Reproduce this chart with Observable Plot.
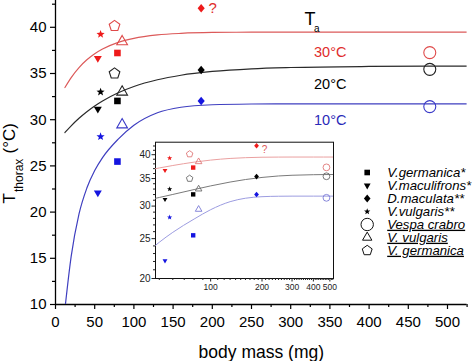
<!DOCTYPE html>
<html><head><meta charset="utf-8">
<script src="https://cdn.jsdelivr.net/npm/d3@7"></script>
<script src="https://cdn.jsdelivr.net/npm/@observablehq/plot@0.6"></script>
<style>
html,body{margin:0;padding:0;background:#fff;}
#wrap{position:relative;width:474px;height:361px;overflow:hidden;background:#fff;}
#wrap svg{position:absolute;}
</style></head><body><div id="wrap"></div>
<script>
const FONT = '"Liberation Sans", Arial, Helvetica, sans-serif';

// ---- data ----
const species = ["V.germanica*", "V.maculifrons*", "D.maculata**", "V.vulgaris**", "Vespa crabro", "V. vulgaris", "V. germanica"];
const massMg = [79, 54, 185.8, 57.5, 477.4, 85, 75.3];
const tAt30 = [37.22, 36.65, 42.06, 39.24, 37.26, 38.45, 40.14];
const tAt20 = [32.03, 31.16, 35.38, 33.0, 35.45, 33.0, 35.0];
const tAt10 = [25.47, 22.1, 32.02, 28.17, 31.42, 29.45, null];
const fitMass = [12, 20, 30, 40, 50, 60, 80, 100, 130, 160, 200, 250, 300, 400, 525];
const fit30 = [33.48, 34.56, 35.64, 36.48, 37.14, 37.65, 38.37, 38.81, 39.17, 39.34, 39.44, 39.47, 39.48, 39.48, 39.48];
const fit20 = [28.61, 29.34, 30.15, 30.86, 31.48, 32.02, 32.91, 33.59, 34.32, 34.81, 35.22, 35.51, 35.65, 35.76, 35.8];
const fit10 = [9.5, 15.2, 19.8, 22.6, 24.5, 25.9, 27.9, 29.4, 30.75, 31.35, 31.62, 31.7, 31.72, 31.72, 31.72];
const ambientLabels = ["30°C", "20°C", "10°C"];
const underlined = ["Vespa crabro", "V. vulgaris", "V. germanica"];
const xTicks = [0, 50, 100, 150, 200, 250, 300, 350, 400, 450, 500];
const xMinor = [25, 75, 125, 175, 225, 275, 325, 375, 425, 475, 525];
const yTicks = [10, 15, 20, 25, 30, 35, 40];
const yMinor = [12.5, 17.5, 22.5, 27.5, 32.5, 37.5, 42.5];
const insetXTicks = [100, 200, 300, 400, 500];
const insetYTicks = [20, 25, 30, 35, 40];
const insetXMinor = d3.range(50, 521, 10).filter(v => v % 100 !== 0);
const insetYMinor = d3.range(21, 43, 1).filter(v => v % 5 !== 0);

// ---- custom symbols ----
const rad = s => Math.sqrt(s / Math.PI);
const poly = (c, pts) => { c.moveTo(pts[0][0], pts[0][1]); for (let k = 1; k < pts.length; k++) c.lineTo(pts[k][0], pts[k][1]); c.closePath(); };
const SYM = {
  square: {draw(c, s) { const r = rad(s); poly(c, [[-r, -r], [r, -r], [r, r], [-r, r]]); }},
  invTri: {draw(c, s) { const r = rad(s); poly(c, [[0, r], [-0.866 * r, -0.5 * r], [0.866 * r, -0.5 * r]]); }},
  triangle: {draw(c, s) { const r = rad(s); poly(c, [[0, -r], [0.866 * r, 0.5 * r], [-0.866 * r, 0.5 * r]]); }},
  diamond: {draw(c, s) { const r = rad(s); poly(c, [[0, -r], [0.85 * r, 0], [0, r], [-0.85 * r, 0]]); }},
  star: {draw(c, s) { const r = rad(s); const p = []; for (let k = 0; k < 10; k++) { const a = -Math.PI / 2 + k * Math.PI / 5; const rr = k % 2 ? r * 0.42 : r; p.push([rr * Math.cos(a), rr * Math.sin(a)]); } poly(c, p); }},
  circle: {draw(c, s) { const r = rad(s); c.moveTo(r, 0); c.arc(0, 0, r, 0, 2 * Math.PI); c.closePath(); }},
  pentagon: {draw(c, s) { const r = rad(s); const p = []; for (let k = 0; k < 5; k++) { const a = -Math.PI / 2 + k * 2 * Math.PI / 5; p.push([r * Math.cos(a), r * Math.sin(a)]); } poly(c, p); }}
};
const markerStyle = [
  {sym: SYM.square, open: false, r: 3.3, legR: 2.8, insR: 2.2},
  {sym: SYM.invTri, open: false, r: 4.6, legR: 3.9, insR: 2.8},
  {sym: SYM.diamond, open: false, r: 4.2, legR: 3.9, insR: 2.8},
  {sym: SYM.star, open: false, r: 4.3, legR: 3.3, insR: 2.7},
  {sym: SYM.circle, open: true, r: 6, legR: 6.2, insR: 3.4},
  {sym: SYM.triangle, open: true, r: 6.2, legR: 5.4, insR: 3.8},
  {sym: SYM.pentagon, open: true, r: 5.6, legR: 5.2, insR: 3.4}
];
const seriesStyle = [
  {key: "t30", fill: "#ee1a1a", open: "#df4a4a", line: "#dc5a5a", insOpen: "#e07878", insLine: "#eaa0a0", text: "#e02c2c"},
  {key: "t20", fill: "#000000", open: "#222222", line: "#2a2a2a", insOpen: "#6a6a6a", insLine: "#7a7a7a", text: "#000000"},
  {key: "t10", fill: "#1515e0", open: "#3a3ac8", line: "#3f3fc0", insOpen: "#7a7ad6", insLine: "#9c9ce0", text: "#2a2ab8"}
];

const rows = species.map((s, i) => ({species: s, i, mass: massMg[i], t30: tAt30[i], t20: tAt20[i], t10: tAt10[i]}));
const fitRows = fitMass.map((m, i) => ({mass: m, t30: fit30[i], t20: fit20[i], t10: fit10[i]}));

function dotMarks(inset) {
  const out = [];
  for (const ss of seriesStyle) {
    rows.forEach((row, i) => {
      if (row[ss.key] == null) return;
      const st = markerStyle[i];
      out.push(Plot.dot([row], {
        x: "mass", y: ss.key, symbol: st.sym, r: inset ? st.insR : st.r,
        fill: st.open ? "none" : ss.fill,
        stroke: st.open ? (inset ? ss.insOpen : ss.open) : "none",
        strokeWidth: inset ? 0.9 : 1.1
      }));
    });
  }
  return out;
}
function lineMarks(inset) {
  return seriesStyle.map(ss => Plot.line(fitRows, {
    x: "mass", y: ss.key, stroke: inset ? ss.insLine : ss.line,
    strokeWidth: inset ? 1 : 1.2, curve: "monotone-x", clip: true
  }));
}

const wrap = document.getElementById("wrap");

// ---- main chart ----
const main = Plot.plot({
  width: 474, height: 361,
  marginLeft: 55, marginRight: 7.4, marginTop: 0, marginBottom: 57,
  x: {domain: [0, 525]},
  y: {domain: [10, 42.9]},
  style: {fontFamily: FONT, background: "transparent", color: "#000", overflow: "visible"},
  marks: [
    Plot.axisX({ticks: xTicks, tickSize: 5, tickPadding: 7, fontSize: 15, label: null, strokeWidth: 1.2, tickFormat: d => String(d)}),
    Plot.axisX({ticks: xMinor, tickSize: 3, fill: "none", label: null, strokeWidth: 1.2}),
    Plot.axisY({ticks: yTicks, tickSize: 5, tickPadding: 4, fontSize: 15, label: null, strokeWidth: 1.2, tickFormat: d => String(d)}),
    Plot.axisY({ticks: yMinor, tickSize: 3, fill: "none", label: null, strokeWidth: 1.2}),
    Plot.ruleX([0], {strokeWidth: 1.3}),
    Plot.ruleY([10], {strokeWidth: 1.3}),
    ...lineMarks(false),
    ...dotMarks(false),
    Plot.text(rows.filter(d => d.i === 2), {x: "mass", y: "t30", text: () => "?", dx: 11.5, fill: "#e02c2c", fontSize: 15}),
    Plot.text(["T"], {text: d => d, frameAnchor: "top-left", dx: 249, dy: 11.7, fontSize: 18, fill: "#000"}),
    Plot.text(["a"], {text: d => d, frameAnchor: "top-left", dx: 258.5, dy: 24, fontSize: 10, fill: "#000"}),
    ...ambientLabels.map((lab, k) => Plot.text([lab], {text: d => d, frameAnchor: "top-left", dx: 258.5, dy: [45.8, 78.3, 113.8][k], fontSize: 14.5, fill: seriesStyle[k].text})),
    Plot.text(["body mass (mg)"], {text: d => d, frameAnchor: "bottom", lineAnchor: "bottom", dy: 53, fontSize: 17.5, fill: "#000"}),
    Plot.text(["T"], {text: d => d, frameAnchor: "left", rotate: -90, textAnchor: "start", lineAnchor: "bottom", dx: -40.5, dy: 51, fontSize: 17, fill: "#000"}),
    Plot.text(["thorax"], {text: d => d, frameAnchor: "left", rotate: -90, textAnchor: "start", lineAnchor: "bottom", dx: -32.5, dy: 39.5, fontSize: 12, fill: "#000"}),
    Plot.text(["(°C)"], {text: d => d, frameAnchor: "left", rotate: -90, textAnchor: "start", lineAnchor: "bottom", dx: -40.5, dy: 1, fontSize: 17, fill: "#000"})
  ]
});
main.style.left = "0px"; main.style.top = "0px";
wrap.appendChild(main);

// ---- inset (log-log) ----
const inset = Plot.plot({
  width: 220, height: 170,
  marginLeft: 35, marginTop: 11.7, marginRight: 7, marginBottom: 22,
  x: {type: "log", domain: [47.5, 525]},
  y: {type: "log", domain: [20, 42.9]},
  style: {fontFamily: FONT, background: "transparent", color: "#222", overflow: "visible"},
  marks: [
    Plot.frame({stroke: "#111", strokeWidth: 1}),
    Plot.axisX({ticks: insetXTicks, tickSize: 3.5, tickPadding: 2, fontSize: 8.5, label: null, tickFormat: d => String(d)}),
    Plot.axisX({ticks: insetXMinor, tickSize: 2, fill: "none", label: null}),
    Plot.axisY({ticks: insetYTicks, tickSize: 3.5, tickPadding: 1.5, fontSize: 10, label: null, tickFormat: d => String(d)}),
    Plot.axisY({ticks: insetYMinor, tickSize: 2, fill: "none", label: null}),
    ...lineMarks(true),
    ...dotMarks(true),
    Plot.text(rows.filter(d => d.i === 2), {x: "mass", y: "t30", text: () => "?", dx: 8, dy: 4, fill: "#e05a5a", fontSize: 10})
  ]
});
inset.style.left = "120px"; inset.style.top = "130px";
wrap.appendChild(inset);

// ---- legend ----
const legend = Plot.plot({
  width: 119, height: 100,
  marginLeft: 11.7, marginRight: 0, marginTop: 0, marginBottom: 0,
  y: {type: "point", domain: species, range: [10.7, 91.7], padding: 0, axis: null},
  style: {fontFamily: FONT, background: "transparent", color: "#000", overflow: "visible"},
  marks: [
    ...species.map((s, i) => Plot.dot([s], {
      y: d => d, frameAnchor: "left", symbol: markerStyle[i].sym, r: markerStyle[i].legR,
      fill: markerStyle[i].open ? "none" : "#000", stroke: markerStyle[i].open ? "#111" : "none", strokeWidth: 1
    })),
    Plot.text(species, {y: d => d, text: d => d, frameAnchor: "left", dx: 20, textAnchor: "start", fontSize: 13.2, fontStyle: "italic", fill: "#000"})
  ]
});
legend.style.left = "355px"; legend.style.top = "160px";
wrap.appendChild(legend);
d3.select(legend).selectAll("text")
  .filter(function () { return underlined.includes(this.textContent); })
  .style("text-decoration", "underline");
</script></body></html>
